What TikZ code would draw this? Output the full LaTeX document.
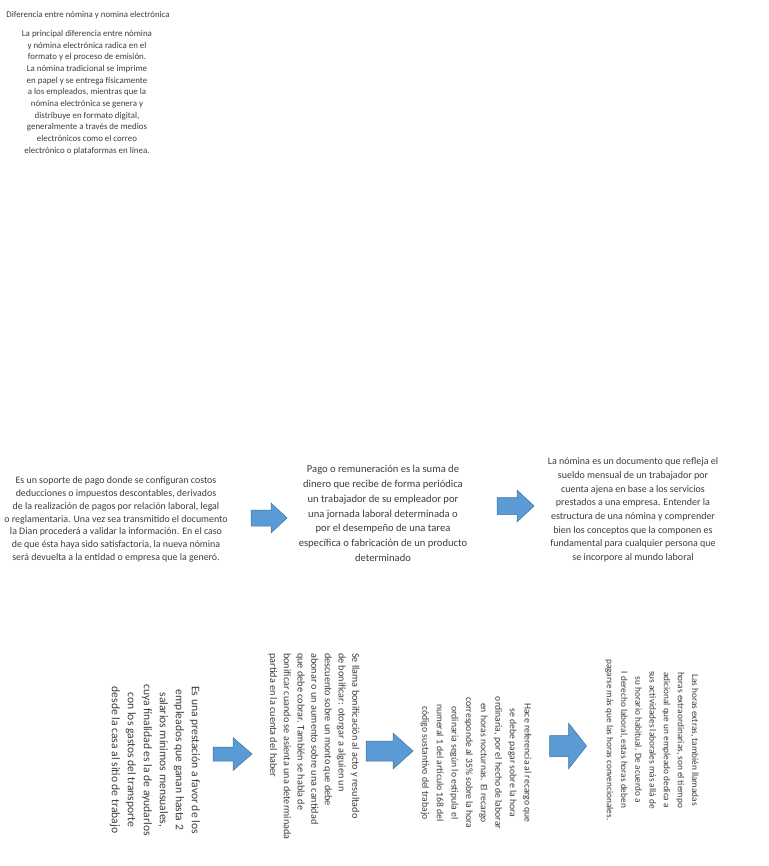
\documentclass[tikz,border=0pt]{standalone}
\usepackage{fontspec}
\setmainfont{Carlito}
\usepackage{tikz}
\usetikzlibrary{positioning}
\definecolor{txtgray}{HTML}{3C3C3C}
\definecolor{arrowblue}{HTML}{5B9BD5}
\definecolor{arrowedge}{HTML}{41719C}
\tikzset{
  txt/.style={align=center, inner sep=0pt, text=txtgray},
  blkarrow/.style={fill=arrowblue, draw=arrowedge, line width=0.5pt, line join=miter},
}
% block arrow: centre x, centre y, length, head width, shaft width, head length
\newcommand{\blockarrow}[6]{%
  \path[blkarrow] ({#1-#3/2},{#2-#5/2}) -- ({#1+#3/2-#6},{#2-#5/2}) -- ({#1+#3/2-#6},{#2-#4/2})
    -- ({#1+#3/2},{#2}) -- ({#1+#3/2-#6},{#2+#4/2}) -- ({#1+#3/2-#6},{#2+#5/2})
    -- ({#1-#3/2},{#2+#5/2}) -- cycle;}

\begin{document}
\begin{tikzpicture}[x=1pt, y=-1pt]
  \useasboundingbox (0,0) rectangle (768,866);

  % top block
  \node[txt, font=\fontsize{8.8}{10}\selectfont] (titulo) at (88,15) {Diferencia entre nómina y nomina electrónica};
  \node[txt, font=\fontsize{8.9}{11.7}\selectfont] (diferencia) at (87,92.5) {La principal diferencia entre nómina\\
    y nómina electrónica radica en el\\ formato y el proceso de emisión.\\
    La nómina tradicional se imprime\\ en papel y se entrega físicamente\\
    a los empleados, mientras que la\\ nómina electrónica se genera y\\
    distribuye en formato digital,\\ generalmente a través de medios\\
    electrónicos como el correo\\ electrónico o plataformas en línea.};

  % middle row
  \node[txt, font=\fontsize{9.9}{12.8}\selectfont] (soporte) at (116,519.5) {Es un soporte de pago donde se configuran costos\\
    deducciones o impuestos descontables, derivados\\
    de la realización de pagos por relación laboral, legal\\
    o reglamentaria. Una vez sea transmitido el documento\\
    la Dian procederá a validar la información. En el caso\\
    de que ésta haya sido satisfactoria, la nueva nómina\\
    será devuelta a la entidad o empresa que la generó.};
  \node[txt, font=\fontsize{10.6}{14.8}\selectfont] (pago) at (383,513.5) {Pago o remuneración es la suma de\\
    dinero que recibe de forma periódica\\ un trabajador de su empleador por\\
    una jornada laboral determinada o\\ por el desempeño de una tarea\\
    específica o fabricación de un producto\\ determinado};
  \node[txt, font=\fontsize{10}{13.7}\selectfont] (nomina) at (633,510) {La nómina es un documento que refleja el\\
    sueldo mensual de un trabajador por\\ cuenta ajena en base a los servicios\\
    prestados a una empresa. Entender la\\ estructura de una nómina y comprender\\
    bien los conceptos que la componen es\\ fundamental para cualquier persona que\\
    se incorpore al mundo laboral};

  \blockarrow{269}{518}{36}{30}{16}{16}
  \blockarrow{515.5}{506}{37}{32}{17}{17}

  % bottom row, rotated text
  \node[txt, rotate=-90, font=\fontsize{11.6}{16}\selectfont] (prestacion) at (155,760) {Es una prestación a favor de los\\
    empleados que ganan hasta 2\\ salarios mínimos mensuales,\\
    cuya finalidad es la de ayudarlos\\ con los gastos del transporte\\
    desde la casa al sitio de trabajo};
  \node[txt, rotate=-90, anchor=west, align=left, font=\fontsize{10.2}{13.7}\selectfont] (bonificacion) at (314,653) {Se llama bonificación al acto y resultado\\
    de bonificar: otorgar a alguien un\\ descuento sobre un monto que debe\\
    abonar o un aumento sobre una cantidad\\ que debe cobrar. También se habla de\\
    bonificar cuando se asienta una determinada\\ partida en la cuenta del haber};
  \node[txt, rotate=-90, font=\fontsize{9.7}{14.6}\selectfont] (recargo) at (476,763) {Hace referencia al recargo que\\
    se debe pagar sobre la hora\\ ordinaria, por el hecho de laborar\\
    en horas nocturnas. El recargo\\ corresponde al 35\% sobre la hora\\
    ordinaria según lo estipula el\\ numeral 1 del artículo 168 del\\
    código sustantivo del trabajo};
  \node[txt, rotate=-90, font=\fontsize{9.3}{14.2}\selectfont] (extras) at (652,740) {Las horas extras, también llamadas\\
    horas extraordinarias, son el tiempo\\ adicional que un empleado dedica a\\
    sus actividades laborales más allá de\\ su horario habitual. De acuerdo a\\
    l derecho laboral, estas horas deben\\ pagarse más que las horas convencionales.};

  \blockarrow{232.5}{754}{39}{33}{14}{19}
  \blockarrow{389.5}{751}{47}{36}{20}{20}
  \blockarrow{568}{746}{37}{46}{21}{18}
\end{tikzpicture}
\end{document}
